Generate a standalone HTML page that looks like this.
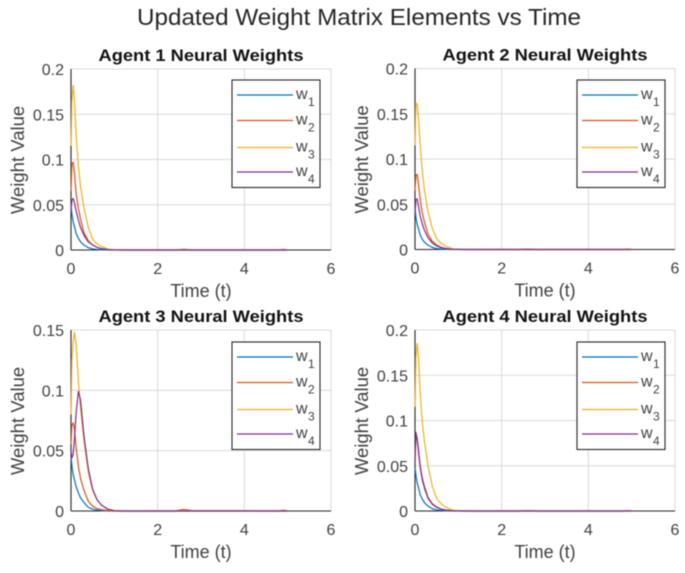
<!DOCTYPE html>
<html>
<head>
<meta charset="utf-8">
<title>Updated Weight Matrix Elements vs Time</title>
<style>
html,body{margin:0;padding:0;background:#fff;width:685px;height:573px;overflow:hidden}
svg{display:block;filter:blur(0.4px)}
text{font-family:"Liberation Sans",sans-serif}
</style>
</head>
<body>
<svg id="fig" width="685" height="573" viewBox="0 0 685 573" xmlns="http://www.w3.org/2000/svg">
<rect width="685" height="573" fill="#fff"/>
<text x="359" y="25" font-size="23" fill="#262626" text-anchor="middle" textLength="444" lengthAdjust="spacingAndGlyphs">Updated Weight Matrix Elements vs Time</text>
</svg>
<script>
const times = [0,.02,.05,.08,.12,.17,.22,.3,.4,.5,.6,.7,.85,1,1.2,1.5,2.4,2.6,2.8,4.8,4.9,5];
const xTickLabels = [0,2,4,6];
const yTicks12 = [0,0.05,0.1,0.15,0.2];
const yTicks3 = [0,0.05,0.1,0.15];
const seriesNames = ['w1','w2','w3','w4'];
const agent1W1 = [.048,.04,.031,.026,.018,.013,.009,.0055,.0025,.0012,.0006,.0003,0,0,0,0,0,0,0,0,0,0];
const agent1W2 = [.065,.095,.097,.085,.062,.046,.034,.019,.01,.0055,.003,.0015,.0005,.0001,0,0,0,.0007,0,0,.0007,0];
const agent1W3 = [.115,.165,.182,.165,.125,.093,.07,.046,.025,.012,.007,.004,.001,.0002,0,0,0,0,0,0,0,0];
const agent1W4 = [.045,.055,.057,.052,.043,.033,.025,.016,.009,.0055,.003,.0015,.0005,.0001,0,0,0,0,0,0,0,0];
const agent2W1 = [.045,.036,.028,.023,.016,.011,.008,.0048,.0022,.001,.0005,.0002,0,0,0,0,0,0,0,0,0,0];
const agent2W2 = [.065,.082,.083,.072,.055,.04,.03,.017,.009,.005,.0025,.0013,.0004,.0001,0,0,0,.0005,0,0,.0005,0];
const agent2W3 = [.115,.162,.16,.145,.115,.086,.065,.042,.023,.012,.007,.004,.001,.0002,0,0,0,0,0,0,0,0];
const agent2W4 = [.04,.055,.056,.048,.037,.028,.021,.013,.007,.004,.002,.001,.0003,.0001,0,0,0,0,0,0,0,0];
const agent3W1 = [.045,.038,.03,.026,.02,.015,.011,.007,.003,.0015,.0008,.0003,0,0,0,0,0,0,0,0,0,0];
const agent3W2 = [.055,.071,.073,.068,.052,.037,.027,.017,.008,.004,.002,.0012,.0003,0,0,0,0,.0013,.0003,0,.0007,0];
const agent3W3 = [.08,.125,.14,.148,.138,.108,.085,.058,.032,.017,.009,.005,.0016,.0003,0,0,0,0,0,0,0,0];
const agent3W4 = [.05,.044,.047,.06,.082,.099,.092,.062,.035,.018,.0095,.005,.0015,.0002,0,0,0,0,0,0,0,0];
const agent4W1 = [.048,.04,.031,.026,.018,.013,.009,.0055,.0025,.0012,.0006,.0003,0,0,0,0,0,0,0,0,0,0];
const agent4W2 = [.055,.082,.08,.068,.05,.036,.027,.015,.008,.0045,.0022,.0011,.0003,.0001,0,0,0,.0005,0,0,.0005,0];
const agent4W3 = [.115,.17,.185,.17,.13,.097,.076,.05,.027,.014,.008,.0045,.0012,.0002,0,0,0,0,0,0,0,0];
const agent4W4 = [.055,.087,.08,.066,.048,.034,.025,.014,.0075,.004,.002,.001,.0003,.0001,0,0,0,0,0,0,0,0];

const NS = 'http://www.w3.org/2000/svg';
const fig = document.getElementById('fig');
const colors = ['#0072BD','#D95319','#EDB120','#7E2F8E'];
const xMax = 6;
const axesWidth = 260;
const axesHeight = 181;

function make(tag, attrs, parent, txt){
  const el = document.createElementNS(NS, tag);
  for (const k in attrs) el.setAttribute(k, attrs[k]);
  if (txt !== undefined) el.textContent = txt;
  parent.appendChild(el);
  return el;
}

function drawAgent(title, x0, yTop, yMax, yTicks, legendX, legendY, data, key){
  const xScale = t => x0 + t / xMax * axesWidth;
  const yScale = v => yTop + axesHeight - v / yMax * axesHeight;
  const yBottom = yTop + axesHeight;
  const g = make('g', {}, fig);
  
  

  xTickLabels.forEach(t => {
    const line = make('line', {x1:xScale(t), x2:xScale(t), y1:yTop, y2:yBottom, stroke:'#d9d9d9', 'stroke-width':1}, g);
    
    
    const label = make('text', {x:xScale(t), y:yBottom + 24, 'font-size':16, fill:'#404040', 'text-anchor':'middle'}, g, String(t));
    
    
  });
  yTicks.forEach(v => {
    const line = make('line', {x1:x0, x2:x0 + axesWidth, y1:yScale(v), y2:yScale(v), stroke:'#d9d9d9', 'stroke-width':1}, g);
    
    
    const label = make('text', {x:x0 - 7, y:yScale(v) + 6, 'font-size':16, fill:'#404040', 'text-anchor':'end'}, g, String(v));
    
    
  });

  const xAxis = make('line', {x1:x0, x2:x0 + axesWidth, y1:yBottom, y2:yBottom, stroke:'#262626', 'stroke-width':1.1}, g);
  
  
  const yAxis = make('line', {x1:x0, x2:x0, y1:yTop, y2:yBottom, stroke:'#262626', 'stroke-width':1.1}, g);
  
  

  data.forEach((vals, i) => {
    const d = vals.map((v, j) => (j ? 'L' : 'M') + xScale(times[j]).toFixed(2) + ' ' + yScale(v).toFixed(2)).join(' ');
    const path = make('path', {d:d, fill:'none', stroke:colors[i], 'stroke-width':1.2, 'stroke-linejoin':'round'}, g);
    
    
  });

  const titleEl = make('text', {x:x0 + 130, y:yTop - 8, 'font-size':17, 'font-weight':'bold', fill:'#111', 'text-anchor':'middle', textLength:205, lengthAdjust:'spacingAndGlyphs'}, g, title);
  
  
  const xTitle = make('text', {x:x0 + 130, y:yBottom + 47, 'font-size':18, fill:'#404040', 'text-anchor':'middle'}, g, 'Time (t)');
  
  
  const yCenterX = x0 - 47;
  const yCenterY = yTop + 91;
  const yTitle = make('text', {x:yCenterX, y:yCenterY, 'font-size':18.5, fill:'#404040', 'text-anchor':'middle', transform:'rotate(-90 ' + yCenterX + ' ' + yCenterY + ')'}, g, 'Weight Value');
  
  

  const legend = make('g', {}, g);
  
  
  make('rect', {x:legendX, y:legendY, width:88, height:107.5, fill:'#fff', stroke:'#262626', 'stroke-width':1.1}, legend);
  const rowOffsets = [15, 40.5, 67.5, 92];
  seriesNames.forEach((name, i) => {
    const rowY = legendY + rowOffsets[i];
    const entry = make('g', {}, legend);
    
    
    make('line', {x1:legendX + 5, x2:legendX + 61, y1:rowY, y2:rowY, stroke:colors[i], 'stroke-width':1.2}, entry);
    make('text', {x:legendX + 64, y:rowY + 4, 'font-size':16, fill:'#404040'}, entry, 'w');
    make('text', {x:legendX + 76, y:rowY + 11, 'font-size':12, fill:'#404040'}, entry, String(i + 1));
  });
}

drawAgent('Agent 1 Neural Weights', 71, 69, 0.2, yTicks12, 232, 80, [agent1W1, agent1W2, agent1W3, agent1W4], 'agent-1');
drawAgent('Agent 2 Neural Weights', 415, 68.5, 0.2, yTicks12, 577, 80, [agent2W1, agent2W2, agent2W3, agent2W4], 'agent-2');
drawAgent('Agent 3 Neural Weights', 71, 330, 0.15, yTicks3, 232, 342, [agent3W1, agent3W2, agent3W3, agent3W4], 'agent-3');
drawAgent('Agent 4 Neural Weights', 415, 330, 0.2, yTicks12, 577, 342, [agent4W1, agent4W2, agent4W3, agent4W4], 'agent-4');
</script>
</body>
</html>
